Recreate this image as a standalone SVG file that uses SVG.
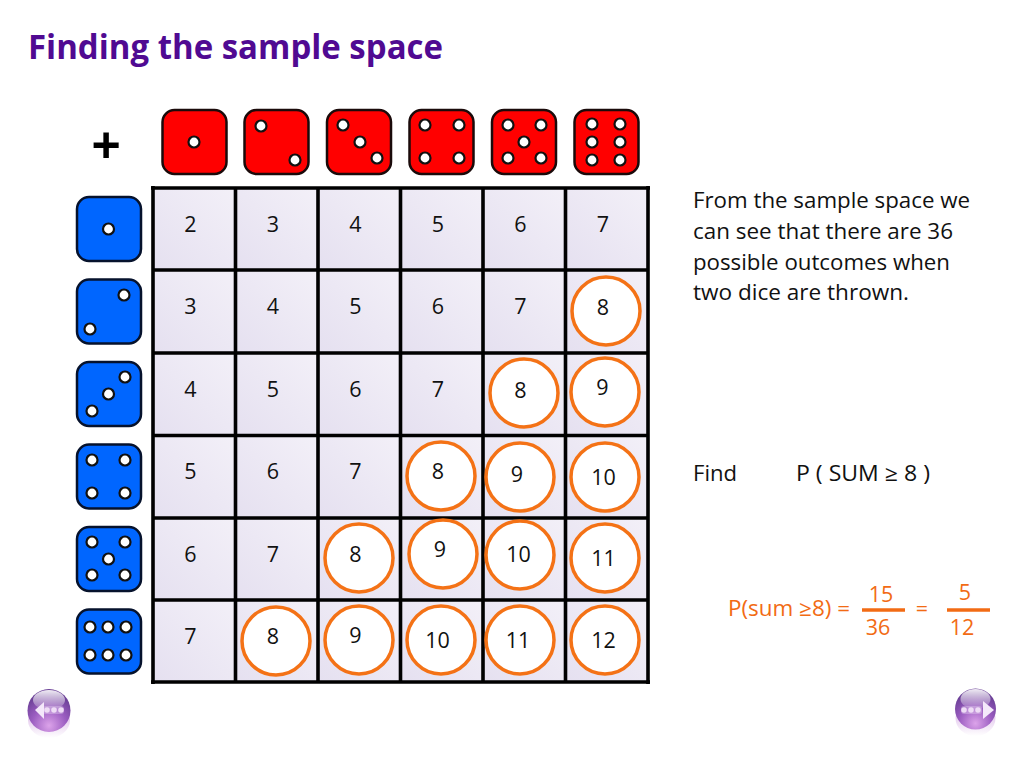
<svg xmlns="http://www.w3.org/2000/svg" xmlns:xlink="http://www.w3.org/1999/xlink" width="1024" height="768" viewBox="0 0 1024 768">
<style>
text{font-family:"Open Sans","Noto Sans","Liberation Sans",sans-serif}
.t{font-size:21.5px;fill:#111;text-anchor:middle}
.s{font-size:21.5px;fill:#111}
.o{font-size:21.5px;fill:#f26b14}
.om{text-anchor:middle}
.red{fill:#ff0000;stroke:#1a0a0a;stroke-width:2.5}
.blue{fill:#0066ff;stroke:#06122c;stroke-width:2.5}
.p{fill:#fff;stroke:#111;stroke-width:2.2}
.c{fill:#fff;stroke:#f47216;stroke-width:3.5}
.gl{stroke:#000;stroke-width:3.6;fill:none}
.f{stroke:#f26b14;stroke-width:3.5}
</style>
<defs>
<linearGradient id="cell" x1="0" y1="1" x2="1" y2="0"><stop offset="0" stop-color="#e5e0f0"/><stop offset="1" stop-color="#f3f0f8"/></linearGradient>
<radialGradient id="btn" cx="0.5" cy="0.85" r="0.75"><stop offset="0" stop-color="#dca3ea"/><stop offset="0.55" stop-color="#9a5cc0"/><stop offset="1" stop-color="#6a3f96"/></radialGradient>
<linearGradient id="gloss" x1="0" y1="0" x2="0" y2="1"><stop offset="0" stop-color="#fff" stop-opacity="0.9"/><stop offset="1" stop-color="#fff" stop-opacity="0.1"/></linearGradient>
<linearGradient id="refl" x1="0" y1="0" x2="0" y2="1"><stop offset="0" stop-color="#c48ad8" stop-opacity="0.8"/><stop offset="1" stop-color="#c48ad8" stop-opacity="0"/></linearGradient>
</defs>
<rect width="1024" height="768" fill="#fff"/>
<text id="title" x="28" y="59" style="font-size:34px;font-weight:700;fill:#500a92" textLength="415" lengthAdjust="spacingAndGlyphs">Finding the sample space</text>
<text id="plus" x="106" y="162" style="font-family:'Liberation Sans',sans-serif;font-size:50px;font-weight:700;fill:#000;text-anchor:middle">+</text>

<g id="table">
<g fill="url(#cell)">
<rect x="153" y="188" width="83" height="82"/><rect x="235" y="188" width="83" height="82"/><rect x="318" y="188" width="83" height="82"/><rect x="400" y="188" width="83" height="82"/><rect x="483" y="188" width="83" height="82"/><rect x="565" y="188" width="83" height="82"/>
<rect x="153" y="270" width="83" height="83"/><rect x="235" y="270" width="83" height="83"/><rect x="318" y="270" width="83" height="83"/><rect x="400" y="270" width="83" height="83"/><rect x="483" y="270" width="83" height="83"/><rect x="565" y="270" width="83" height="83"/>
<rect x="153" y="353" width="83" height="82"/><rect x="235" y="353" width="83" height="82"/><rect x="318" y="353" width="83" height="82"/><rect x="400" y="353" width="83" height="82"/><rect x="483" y="353" width="83" height="82"/><rect x="565" y="353" width="83" height="82"/>
<rect x="153" y="435" width="83" height="83"/><rect x="235" y="435" width="83" height="83"/><rect x="318" y="435" width="83" height="83"/><rect x="400" y="435" width="83" height="83"/><rect x="483" y="435" width="83" height="83"/><rect x="565" y="435" width="83" height="83"/>
<rect x="153" y="518" width="83" height="82"/><rect x="235" y="518" width="83" height="82"/><rect x="318" y="518" width="83" height="82"/><rect x="400" y="518" width="83" height="82"/><rect x="483" y="518" width="83" height="82"/><rect x="565" y="518" width="83" height="82"/>
<rect x="153" y="600" width="83" height="82"/><rect x="235" y="600" width="83" height="82"/><rect x="318" y="600" width="83" height="82"/><rect x="400" y="600" width="83" height="82"/><rect x="483" y="600" width="83" height="82"/><rect x="565" y="600" width="83" height="82"/>
</g>
<path class="gl" d="M153 186V684M235.500 188V682M318 188V682M400.500 188V682M483 188V682M565.500 188V682M648 186V684M151 188H650M153 270H648M153 353H648M153 435.500H648M153 518H648M153 600H648M151 682H650"/>
</g>

<g id="circles">
<circle class="c" cx="606" cy="311" r="34"/><circle class="c" cx="524" cy="393" r="34"/><circle class="c" cx="605" cy="392" r="34"/>
<circle class="c" cx="441" cy="476" r="34"/><circle class="c" cx="520" cy="477" r="34"/><circle class="c" cx="605" cy="477" r="34"/>
<circle class="c" cx="359" cy="558" r="34"/><circle class="c" cx="443" cy="554" r="34"/><circle class="c" cx="520" cy="555" r="34"/><circle class="c" cx="605" cy="558" r="34"/>
<circle class="c" cx="276" cy="641" r="34"/><circle class="c" cx="359" cy="640" r="34"/><circle class="c" cx="441" cy="640" r="34"/><circle class="c" cx="520" cy="640" r="34"/><circle class="c" cx="605" cy="640" r="34"/>
</g>

<g id="numbers">
<text class="t" x="190.500" y="232">2</text><text class="t" x="273" y="232">3</text><text class="t" x="355.500" y="232">4</text><text class="t" x="438" y="232">5</text><text class="t" x="520.500" y="232">6</text><text class="t" x="603" y="232">7</text>
<text class="t" x="190.500" y="314">3</text><text class="t" x="273" y="314">4</text><text class="t" x="355.500" y="314">5</text><text class="t" x="438" y="314">6</text><text class="t" x="520.500" y="314">7</text><text class="t" x="603" y="315">8</text>
<text class="t" x="190.500" y="397">4</text><text class="t" x="273" y="397">5</text><text class="t" x="355.500" y="397">6</text><text class="t" x="438" y="397">7</text><text class="t" x="520.500" y="398">8</text><text class="t" x="602.500" y="395">9</text>
<text class="t" x="190.500" y="479">5</text><text class="t" x="273" y="479">6</text><text class="t" x="355.500" y="479">7</text><text class="t" x="438" y="479">8</text><text class="t" x="517" y="482">9</text><text class="t" x="603.500" y="485">10</text>
<text class="t" x="190.500" y="562">6</text><text class="t" x="273" y="562">7</text><text class="t" x="355.500" y="562">8</text><text class="t" x="440" y="557">9</text><text class="t" x="518.500" y="562">10</text><text class="t" x="603.500" y="566">11</text>
<text class="t" x="190.500" y="644">7</text><text class="t" x="273" y="644">8</text><text class="t" x="355.500" y="643">9</text><text class="t" x="437.500" y="648">10</text><text class="t" x="518" y="648">11</text><text class="t" x="603.500" y="648">12</text>
</g>

<g id="red-dice">
<g id="r1"><rect class="red" x="162.500" y="110" width="64" height="64" rx="12"/><circle class="p" cx="194" cy="142" r="5.500"/></g>
<g id="r2"><rect class="red" x="244.500" y="110" width="64" height="64" rx="12"/><circle class="p" cx="261" cy="126" r="5.500"/><circle class="p" cx="295" cy="160" r="5.500"/></g>
<g id="r3"><rect class="red" x="327" y="110" width="64" height="64" rx="12"/><circle class="p" cx="343" cy="125" r="5.500"/><circle class="p" cx="360" cy="142" r="5.500"/><circle class="p" cx="377" cy="158" r="5.500"/></g>
<g id="r4"><rect class="red" x="409.500" y="110" width="64" height="64" rx="12"/><circle class="p" cx="425" cy="125" r="5.500"/><circle class="p" cx="459" cy="125" r="5.500"/><circle class="p" cx="425" cy="158" r="5.500"/><circle class="p" cx="459" cy="158" r="5.500"/></g>
<g id="r5"><rect class="red" x="492" y="110" width="64" height="64" rx="12"/><circle class="p" cx="508" cy="125" r="5.500"/><circle class="p" cx="541" cy="125" r="5.500"/><circle class="p" cx="524" cy="142" r="5.500"/><circle class="p" cx="508" cy="158" r="5.500"/><circle class="p" cx="541" cy="158" r="5.500"/></g>
<g id="r6"><rect class="red" x="574.500" y="110" width="64" height="64" rx="12"/><circle class="p" cx="592" cy="124" r="5.500"/><circle class="p" cx="620" cy="124" r="5.500"/><circle class="p" cx="592" cy="142" r="5.500"/><circle class="p" cx="620" cy="142" r="5.500"/><circle class="p" cx="592" cy="160" r="5.500"/><circle class="p" cx="620" cy="160" r="5.500"/></g>
</g>

<g id="blue-dice">
<g id="b1"><rect class="blue" x="77" y="197" width="64" height="64" rx="12"/><circle class="p" cx="108.500" cy="229" r="5.500"/></g>
<g id="b2"><rect class="blue" x="77" y="279.500" width="64" height="64" rx="12"/><circle class="p" cx="124" cy="295" r="5.500"/><circle class="p" cx="90" cy="329" r="5.500"/></g>
<g id="b3"><rect class="blue" x="77" y="362" width="64" height="64" rx="12"/><circle class="p" cx="125" cy="377" r="5.500"/><circle class="p" cx="108.500" cy="394" r="5.500"/><circle class="p" cx="92" cy="411" r="5.500"/></g>
<g id="b4"><rect class="blue" x="77" y="444.500" width="64" height="64" rx="12"/><circle class="p" cx="92" cy="460" r="5.500"/><circle class="p" cx="125" cy="460" r="5.500"/><circle class="p" cx="92" cy="493" r="5.500"/><circle class="p" cx="125" cy="493" r="5.500"/></g>
<g id="b5"><rect class="blue" x="77" y="527" width="64" height="64" rx="12"/><circle class="p" cx="92" cy="542" r="5.500"/><circle class="p" cx="125" cy="542" r="5.500"/><circle class="p" cx="108.500" cy="559" r="5.500"/><circle class="p" cx="92" cy="575" r="5.500"/><circle class="p" cx="125" cy="575" r="5.500"/></g>
<g id="b6"><rect class="blue" x="77" y="609.500" width="64" height="64" rx="12"/><circle class="p" cx="90" cy="627" r="5.500"/><circle class="p" cx="108" cy="627" r="5.500"/><circle class="p" cx="126" cy="627" r="5.500"/><circle class="p" cx="90" cy="655" r="5.500"/><circle class="p" cx="108" cy="655" r="5.500"/><circle class="p" cx="126" cy="655" r="5.500"/></g>
</g>

<g id="description">
<text class="s" x="693" y="208" textLength="277" lengthAdjust="spacingAndGlyphs">From the sample space we</text>
<text class="s" x="693" y="239" textLength="260" lengthAdjust="spacingAndGlyphs">can see that there are 36</text>
<text class="s" x="693" y="270" textLength="257" lengthAdjust="spacingAndGlyphs">possible outcomes when</text>
<text class="s" x="693" y="300" textLength="216" lengthAdjust="spacingAndGlyphs">two dice are thrown.</text>
</g>
<g id="find">
<text class="s" x="693" y="481" textLength="44" lengthAdjust="spacingAndGlyphs">Find</text>
<text class="s" x="796" y="481" textLength="134" lengthAdjust="spacingAndGlyphs">P ( SUM ≥ 8 )</text>
</g>
<g id="answer">
<text class="o" x="728" y="616" textLength="122" lengthAdjust="spacingAndGlyphs">P(sum ≥8) =</text>
<text class="o om" x="881" y="602">15</text><line class="f" x1="862" y1="610" x2="905" y2="610"/><text class="o om" x="878" y="635">36</text>
<text class="o om" x="922" y="616">=</text>
<text class="o om" x="965" y="600">5</text><line class="f" x1="947" y1="610" x2="990" y2="610"/><text class="o om" x="962" y="635">12</text>
</g>

<g id="btn-prev">
<ellipse cx="49" cy="720" rx="21" ry="18" fill="url(#refl)"/>
<circle cx="49" cy="710.500" r="21.500" fill="url(#btn)"/>
<ellipse cx="49" cy="700" rx="16" ry="10" fill="url(#gloss)"/>
<rect x="43" y="706" width="21" height="8" rx="3" fill="#eedcf5" opacity="0.35"/>
<path d="M35 710L44 702V719Z" fill="#f4e8fa"/>
<circle cx="47" cy="710" r="2.800" fill="#eedcf5"/><circle cx="54" cy="710" r="2.800" fill="#eedcf5"/><circle cx="61" cy="710" r="2.800" fill="#eedcf5"/>
</g>
<g id="btn-next">
<ellipse cx="975.500" cy="718" rx="20" ry="18" fill="url(#refl)"/>
<circle cx="975.500" cy="709" r="20.500" fill="url(#btn)"/>
<ellipse cx="975.500" cy="699" rx="15" ry="10" fill="url(#gloss)"/>
<rect x="961" y="706" width="21" height="8" rx="3" fill="#eedcf5" opacity="0.35"/>
<path d="M994 710L983 701V719Z" fill="#f4e8fa"/>
<circle cx="964" cy="710" r="2.800" fill="#eedcf5"/><circle cx="971" cy="710" r="2.800" fill="#eedcf5"/><circle cx="978" cy="710" r="2.800" fill="#eedcf5"/>
</g>
</svg>
